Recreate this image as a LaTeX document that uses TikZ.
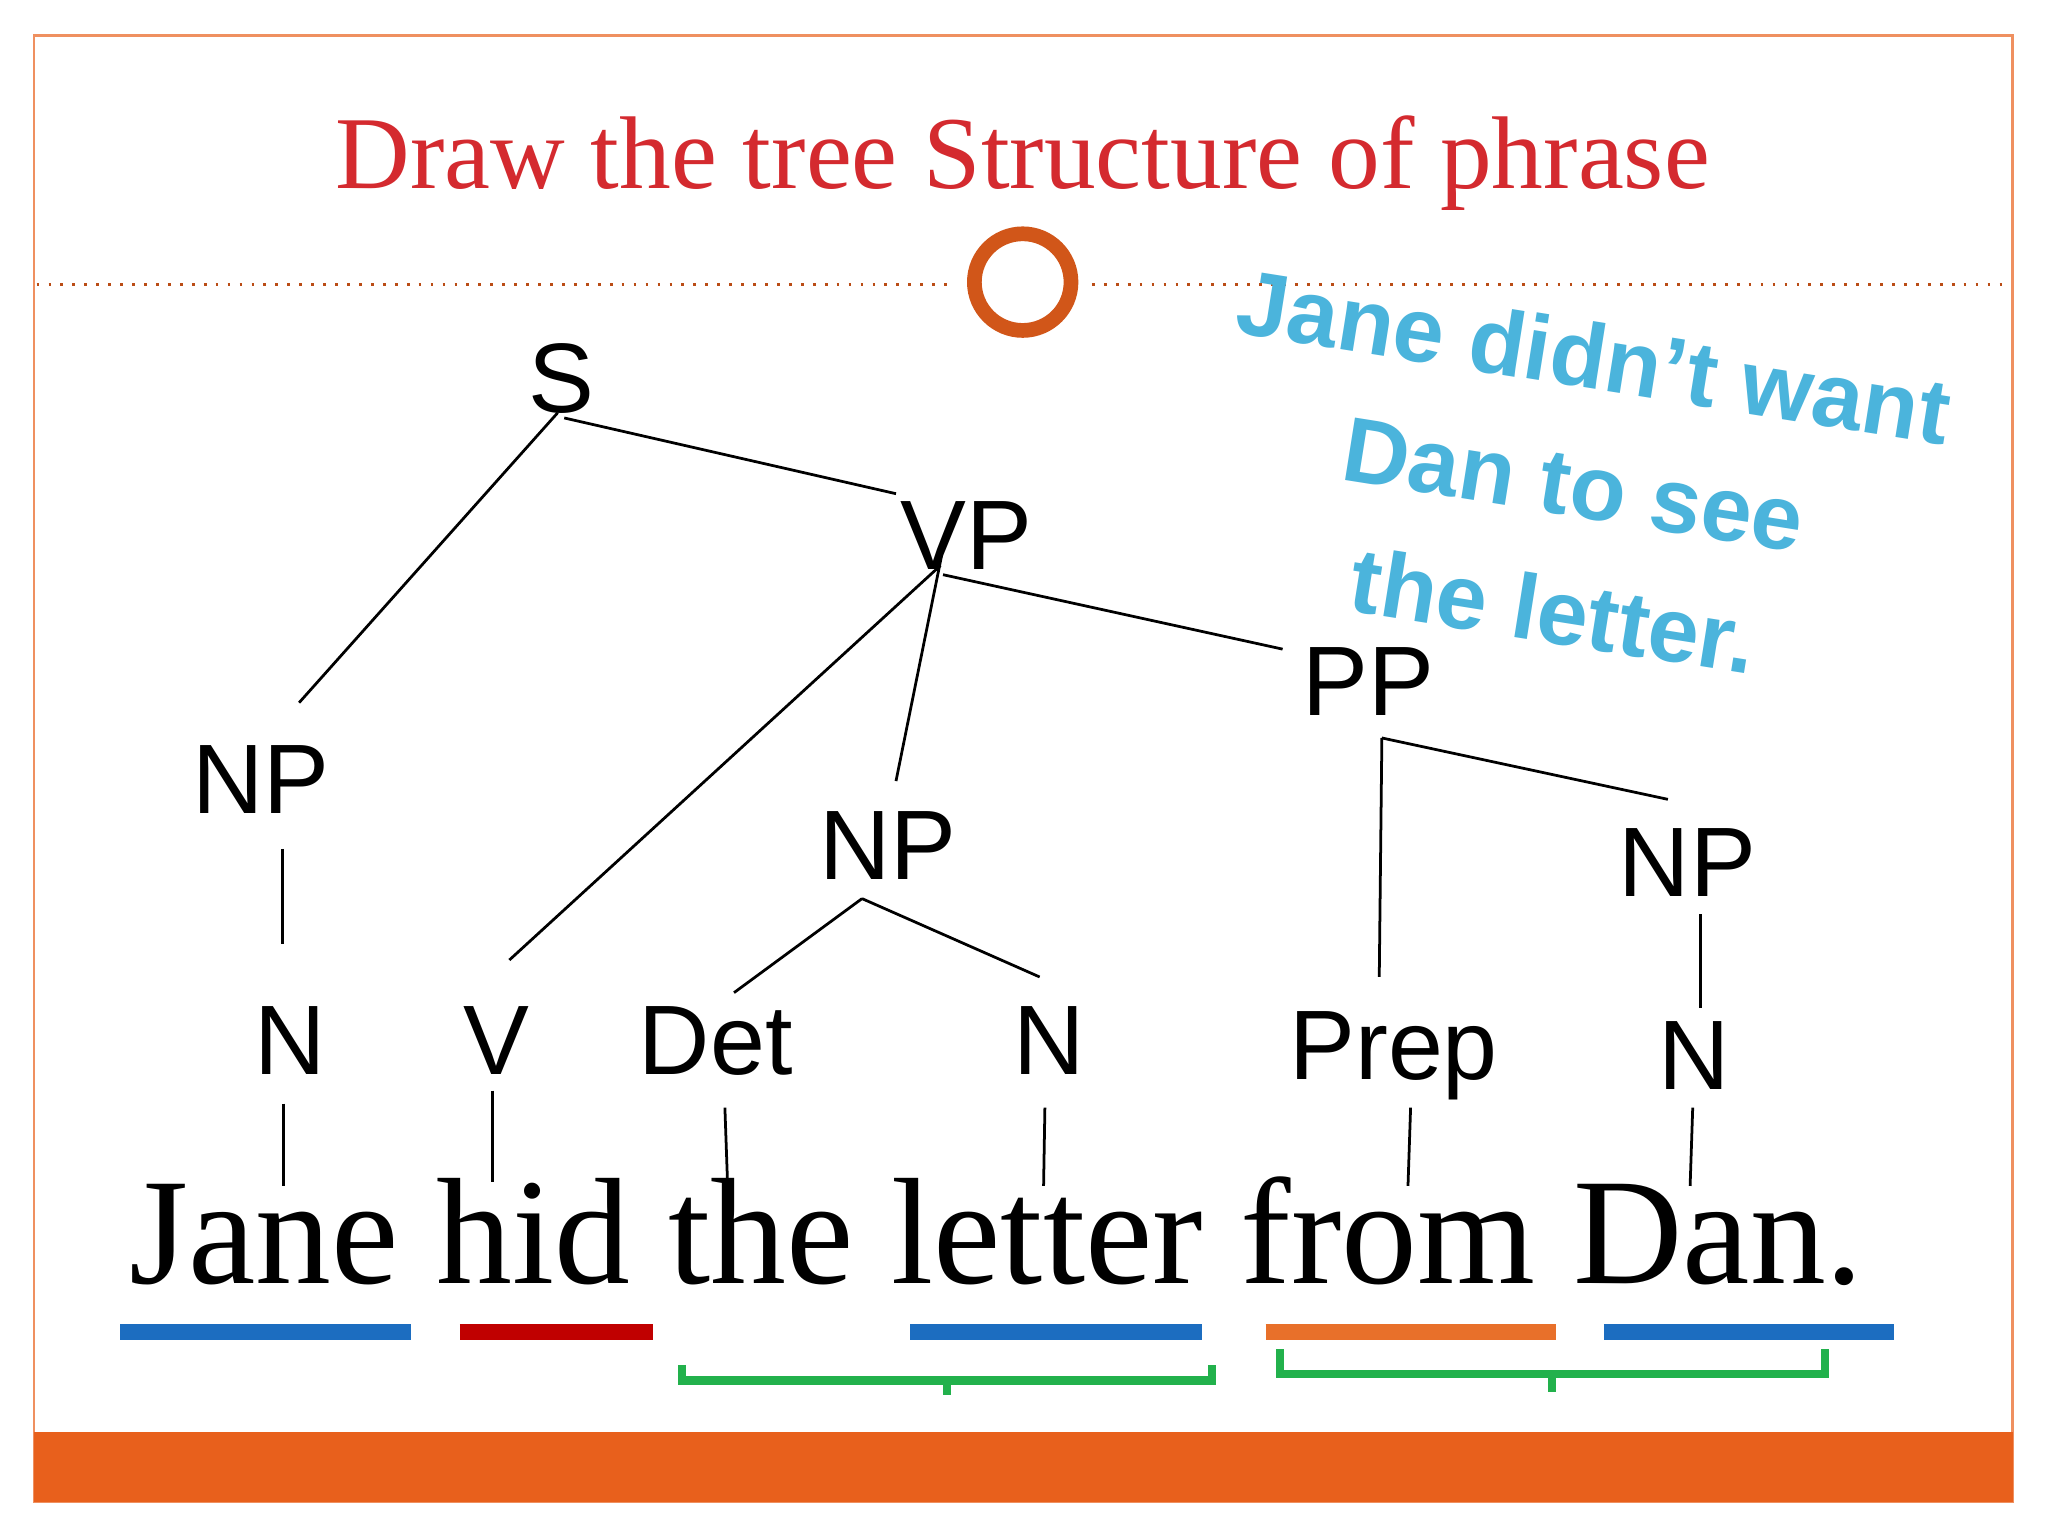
\documentclass[tikz,border=0pt]{standalone}
\usepackage{fontspec}
\setmainfont{Liberation Serif}
\setsansfont{Liberation Sans}
\definecolor{orng}{HTML}{E8601C}
\definecolor{ttl}{HTML}{D42A2F}
\definecolor{ublue}{HTML}{1C6DC0}
\definecolor{ured}{HTML}{C00000}
\definecolor{uorng}{HTML}{E8702A}
\definecolor{grn}{HTML}{22B14C}
\definecolor{wa}{HTML}{4BB4DC}
\begin{document}
\begin{tikzpicture}[x=0.01cm,y=-0.01cm,
  lab/.style={font=\sffamily\fontsize{21.5}{24}\selectfont,inner sep=0pt},
  edge/.style={draw=black,line width=0.6pt},
  uline/.style={line width=3.4pt},
  brace/.style={draw=grn,line width=1.8pt}]
\useasboundingbox (0,0) rectangle (1568,1176);
\fill[white] (0,0) rectangle (1568,1176);
\draw[orng!70,line width=0.6pt] (26,27) rectangle (1541,1150);
\fill[orng] (26,1096) rectangle (1541,1150);
\node[text=ttl,font=\fontsize{22.5}{26}\selectfont] (title) at (783,125) {Draw the tree Structure of phrase};
\draw[orng!80!black,dotted,line width=0.6pt] (28,218) -- (732,218);
\draw[orng!80!black,dotted,line width=0.6pt] (836,218) -- (1540,218);
\draw[orng!90!black,line width=3.2pt] (783,216) circle (37);
% WordArt
\node[font=\sffamily\bfseries\fontsize{20}{28}\selectfont,text=wa,align=center,rotate=-9] (wa) at (1205,370) {Jane didn’t want\\Dan to see\\the letter.};
% tree nodes
\node[lab] (S) at (430,290) {S};
\node[lab] (VP) at (740,410) {VP};
\node[lab] (NP1) at (200,597) {NP};
\node[lab] (NP2) at (680,647) {NP};
\node[lab] (PP) at (1048,522) {PP};
\node[lab] (NP3) at (1292,660) {NP};
\node[lab] (N1) at (222,797) {N};
\node[lab] (V) at (380,797) {V};
\node[lab] (Det) at (548,797) {Det};
\node[lab] (N2) at (803,797) {N};
\node[lab] (Prep) at (1067,808) {Prep};
\node[lab] (N3) at (1297,808) {N};
% endpoint coordinates
\coordinate (s1) at (427,316); \coordinate (s2) at (432,320);
\coordinate (np1t) at (229,538); \coordinate (vpt) at (686,378);
\coordinate (vp1) at (720,433); \coordinate (vp2) at (721,425); \coordinate (vp3) at (722,440);
\coordinate (vt) at (390,735); \coordinate (np2t) at (686,598); \coordinate (ppt) at (982,497);
\coordinate (pp1) at (1058,565); \coordinate (prept) at (1056,748); \coordinate (np3t) at (1277,612);
\coordinate (np2b) at (660,688); \coordinate (dett) at (562,760); \coordinate (n2t) at (796,748);
\coordinate (np1b) at (216,650); \coordinate (n1t) at (216,723);
\coordinate (np3b) at (1302,700); \coordinate (n3t) at (1302,772);
\draw[edge] (s1) -- (np1t);
\draw[edge] (s2) -- (vpt);
\draw[edge] (vp1) -- (vt);
\draw[edge] (vp2) -- (np2t);
\draw[edge] (vp3) -- (ppt);
\draw[edge] (pp1) -- (prept);
\draw[edge] (pp1) -- (np3t);
\draw[edge] (np2b) -- (dett);
\draw[edge] (np2b) -- (n2t);
\draw[edge] (np1b) -- (n1t);
\draw[edge] (np3b) -- (n3t);
% sentence
\node[font=\fontsize{33}{36}\selectfont,anchor=base,inner sep=0pt] (sent) at (763,983) {Jane hid the letter from Dan.};
\coordinate (w1) at (217,908); \coordinate (w2) at (377,905); \coordinate (w3) at (557,905);
\coordinate (w4) at (799,908); \coordinate (w5) at (1078,908); \coordinate (w6) at (1294,908);
\coordinate (a1) at (217,845); \coordinate (a2) at (377,835); \coordinate (a3) at (555,848);
\coordinate (a4) at (800,848); \coordinate (a5) at (1080,848); \coordinate (a6) at (1296,848);
\draw[edge] (a1) -- (w1); \draw[edge] (a2) -- (w2); \draw[edge] (a3) -- (w3);
\draw[edge] (a4) -- (w4); \draw[edge] (a5) -- (w5); \draw[edge] (a6) -- (w6);
% underlines
\draw[uline,ublue] (92,1020) -- (315,1020);
\draw[uline,ured] (352,1020) -- (500,1020);
\draw[uline,ublue] (697,1020) -- (920,1020);
\draw[uline,uorng] (969,1020) -- (1191,1020);
\draw[uline,ublue] (1228,1020) -- (1450,1020);
% braces
\draw[brace] (522,1045) -- (522,1057) -- (928,1057) -- (928,1045);
\draw[brace] (725,1057) -- (725,1068);
\draw[brace] (980,1033) -- (980,1052) -- (1397,1052) -- (1397,1033);
\draw[brace] (1188,1052) -- (1188,1066);
\end{tikzpicture}
\end{document}
